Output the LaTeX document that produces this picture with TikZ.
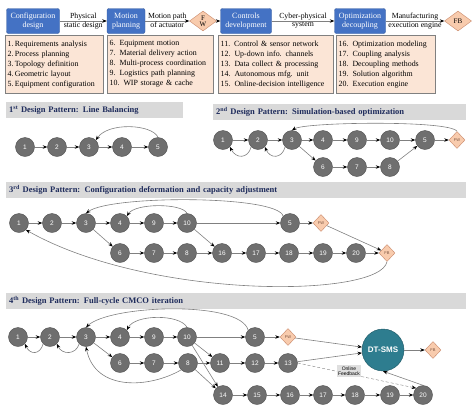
\documentclass[tikz,border=0pt]{standalone}
\usepackage{fontspec}
\setmainfont{Liberation Serif}
\newfontfamily\sansf{Liberation Sans}
\usetikzlibrary{arrows.meta,shapes.geometric}
\definecolor{boxblue}{HTML}{4472C4}
\definecolor{listfill}{HTML}{FBE5D6}
\definecolor{barfill}{HTML}{D9D9D9}
\definecolor{bartext}{HTML}{1F2C5C}
\definecolor{ndfill}{HTML}{6F6F6F}
\definecolor{ndline}{HTML}{4F4F4F}
\definecolor{diafill}{HTML}{F8CBAD}
\definecolor{dialine}{HTML}{C9896A}
\definecolor{dtfill}{HTML}{2E7D8F}
\newcommand\nohyph{\hyphenpenalty=10000\relax\exhyphenpenalty=10000\relax}
\begin{document}
\begin{tikzpicture}[x=1pt,y=-1pt,
  blk/.style={rectangle,rounded corners=2pt,fill=boxblue,draw=boxblue!80!black,text=white,align=center,font=\fontsize{8}{8.5}\selectfont,minimum height=25pt,inner sep=1pt},
  lst/.style={rectangle,fill=listfill,draw=gray,anchor=north west,align=left,font=\fontsize{7.9}{10}\selectfont\nohyph,minimum height=58pt,inner xsep=2.5pt,inner ysep=3pt},
  lbl/.style={font=\fontsize{7.8}{8}\selectfont,inner sep=1pt},
  bar/.style={rectangle,fill=barfill,anchor=north west,align=left,text=bartext,font=\bfseries\fontsize{8.5}{8.5}\selectfont,minimum height=16pt,inner xsep=3pt},
  nd/.style={circle,fill=ndfill,draw=ndline,text=white,minimum size=19pt,inner sep=0pt,font=\sansf\fontsize{6.5}{6.5}\selectfont},
  fw/.style={diamond,fill=diafill,draw=dialine,text=dialine!60!black,minimum width=16pt,minimum height=17pt,inner sep=0pt,font=\sansf\fontsize{4}{4}\selectfont},
  hdia/.style={diamond,fill=diafill,draw=dialine,minimum width=27pt,minimum height=20pt,inner sep=0pt,align=center,font=\fontsize{7}{6}\selectfont},
  ar/.style={draw=gray,line width=0.6pt,-{Stealth[length=4.5pt,width=3.5pt,color=black]}},
  ]
\useasboundingbox (0,0) rectangle (474,413);

\node[blk,minimum width=53pt] (cfg) at (33,21) {Configuration\\design};
\node[blk,minimum width=38pt] (mot) at (126,21) {Motion\\planning};
\node[hdia] (hfw) at (203,21) {F\\W};
\node[blk,minimum width=51pt] (ctl) at (246,21) {Controls\\development};
\node[blk,minimum width=51pt] (opt) at (360,21) {Optimization\\decoupling};
\node[hdia] (hfb) at (458,21) {FB};
\draw[ar] (cfg) -- node[lbl,above]{Physical} node[lbl,below]{static design} (mot);
\draw[ar] (mot) -- node[lbl,above]{Motion path} node[lbl,below]{of actuator} (hfw);
\draw[ar] (hfw) -- (ctl);
\draw[ar] (ctl) -- node[lbl,above]{Cyber-physical} node[lbl,below]{system} (opt);
\draw[ar] (opt) -- node[lbl,above]{Manufacturing} node[lbl,below]{execution engine} (hfb);

\node[lst,text width=93pt] (l1) at (5,35) {1.\,Requirements analysis\\2.\,Process planning\\3.\,Topology definition\\4.\,Geometric layout\\5.\,Equipment configuration};
\node[lst,text width=101pt] (l2) at (107,35) {6. Equipment motion\\7. Material delivery action\\8. Multi-process coordination\\9. Logistics path planning\\10. WIP storage \& cache};
\node[lst,text width=110pt] (l3) at (218,35) {11. Control \& sensor network\\12. Up-down info. channels\\13. Data collect \& processing\\14. Autonomous mfg. unit\\15. Online-decision intelligence};
\node[lst,text width=94pt] (l4) at (336,35) {16. Optimization modeling\\17. Coupling analysis\\18. Decoupling methods\\19. Solution algorithm\\20. Execution engine};

\node[bar,text width=171pt] (h1) at (6,102) {1\textsuperscript{st} Design Pattern: Line Balancing};
\node[bar,text width=247pt] (h2) at (213,104) {2\textsuperscript{nd} Design Pattern: Simulation-based optimization};
\node[bar,text width=454pt] (h3) at (6,182) {3\textsuperscript{rd} Design Pattern: Configuration deformation and capacity adjustment};
\node[bar,text width=454pt] (h4) at (6,293) {4\textsuperscript{th} Design Pattern: Full-cycle CMCO iteration};

\foreach \n/\x in {1/25,2/57,3/89,4/122,5/158} \node[nd] (a\n) at (\x,147) {\n};
\foreach \p/\q in {1/2,2/3,3/4,4/5} \draw[ar] (a\p) -- (a\q);
\draw[ar] (a5.north) .. controls (152,124) and (108,122) .. (a3.north east);

\foreach \n/\x in {1/223,2/258,3/292,4/323,9/357,10/390,5/425} \node[nd] (b\n) at (\x,140) {\n};
\foreach \n/\x in {6/323,7/357,8/390} \node[nd] (b\n) at (\x,167) {\n};
\node[fw] (bfw) at (457,140) {FW};
\foreach \p/\q in {1/2,2/3,3/4,4/9,9/10,10/5,5/fw,3/6,6/7,7/8,8/5} \draw[ar] (b\p) -- (b\q);
\draw[ar] (bfw.north) .. controls (450,120) and (305,122) .. (b3.north);
\draw[ar] (b2.south west) .. controls (248,159) and (236,159) .. (b1.south east);
\draw[ar] (b3.south west) .. controls (282,159) and (270,159) .. (b2.south east);

\foreach \n/\x in {1/19,2/52,3/86,4/120,9/154,10/187,5/290} \node[nd] (c\n) at (\x,223) {\n};
\foreach \n/\x in {6/120,7/154,8/187,16/222,17/256,18/289,19/323,20/356} \node[nd] (c\n) at (\x,253) {\n};
\node[fw] (cfw) at (321,223) {FW};
\node[fw] (cfb) at (387,253) {FB};
\foreach \p/\q in {1/2,2/3,3/4,4/9,9/10,10/5,5/fw,fw/fb,3/6,6/7,7/8,8/16,10/16,16/17,17/18,18/19,19/20,20/fb} \draw[ar] (c\p) -- (c\q);
\draw[ar] (c5.north west) .. controls (278,195) and (110,195) .. (c3.north);
\draw[ar] (c10.north) .. controls (182,203) and (135,203) .. (c4.north east);
\draw[ar] (cfb.south) .. controls (380,298) and (150,300) .. (c1.south east);

\foreach \n/\x in {1/18,2/50,3/86,4/120,9/154,10/187,5/255} \node[nd] (d\n) at (\x,337) {\n};
\foreach \n/\x in {6/120,7/154,8/188,11/220,12/255,13/288} \node[nd] (d\n) at (\x,363) {\n};
\foreach \n/\x in {14/223,15/257,16/290,17/323,18/355,19/390,20/423} \node[nd] (d\n) at (\x,395) {\n};
\node[fw] (dfw) at (288,337) {FW};
\node[circle,fill=dtfill,draw=dtfill!70!black,text=white,minimum size=42pt,inner sep=0pt,font=\sansf\bfseries\fontsize{8}{8}\selectfont] (ddt) at (383,350) {DT-SMS};
\node[fw] (dfb) at (433,350) {FB};
\foreach \p/\q in {1/2,2/3,3/4,4/9,9/10,10/5,5/fw,fw/dt,3/6,6/7,7/8,8/11,11/12,12/13,13/dt,10/11,10/14,8/14,14/15,15/16,16/17,17/18,18/19,19/20,dt/fb} \draw[ar] (d\p) -- (d\q);
\draw[ar] (d20.north) -- (ddt.south);
\draw[ar,line width=0.4pt,densely dashed] (d13.east) -- (d20.north west);
\node[fill=gray!25,font=\sansf\fontsize{5}{5.5}\selectfont,align=center,inner sep=1.2pt] (fbk) at (349,371) {Online\\Feedback};
\draw[ar] (d2.south west) .. controls (40,355) and (30,355) .. (d1.south east);
\draw[ar] (d3.south west) .. controls (76,355) and (62,355) .. (d2.south east);
\draw[ar] (d8.south west) .. controls (150,388) and (95,392) .. (d3.south);
\draw[ar] (d5.north west) .. controls (240,300) and (110,305) .. (d3.north);
\draw[ar] (d10.north) .. controls (180,314) and (135,314) .. (d4.north east);
\end{tikzpicture}
\end{document}
